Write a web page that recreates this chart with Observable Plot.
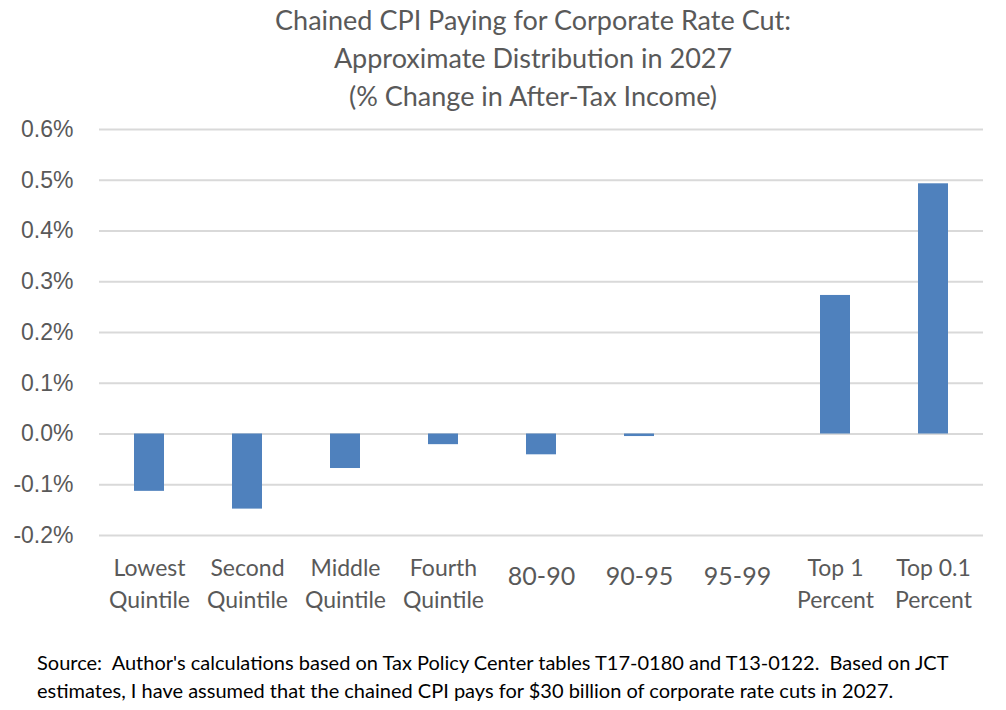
<!DOCTYPE html>
<html>
<head>
<meta charset="utf-8">
<script src="https://cdn.jsdelivr.net/npm/d3@7"></script>
<script src="https://cdn.jsdelivr.net/npm/@observablehq/plot@0.6"></script>
<style>
  html, body { margin: 0; padding: 0; background: #fff; }
  #wrap { width: 1006px; height: 710px; position: relative; overflow: hidden; }
  .title {
    position: absolute; left: 0; top: 1px; width: 1066px; text-align: center;
    font-family: Lato, "Open Sans", sans-serif; font-size: 27px; line-height: 38px; color: #595959;
  }
  #chart { position: absolute; left: 0; top: 115px; }
  .caption {
    position: absolute; left: 37px; top: 648px; width: 980px; white-space: nowrap;
    font-family: Lato, "Open Sans", sans-serif; font-size: 20px; line-height: 28px; color: #000;
  }
</style>
</head>
<body>
<div id="wrap">
  <div class="title">Chained CPI Paying for Corporate Rate Cut:<br>Approximate Distribution in 2027<br>(% Change in After-Tax Income)</div>
  <div id="chart"></div>
  <div class="caption">Source:&nbsp; Author's calculations based on Tax Policy Center tables T17-0180 and T13-0122.&nbsp; Based on JCT<br>estimates, I have assumed that the chained CPI pays for $30 billion of corporate rate cuts in 2027.</div>
</div>
<script>
// Income groups, in display order
const categories = ["Lowest Quintile", "Second Quintile", "Middle Quintile", "Fourth Quintile",
  "80-90", "90-95", "95-99", "Top 1 Percent", "Top 0.1 Percent"];
// Axis labels for each group (wrapped onto two lines where needed)
const tickLabels = ["Lowest\nQuintile", "Second\nQuintile", "Middle\nQuintile", "Fourth\nQuintile",
  "80-90", "90-95", "95-99", "Top 1\nPercent", "Top 0.1\nPercent"];
// % change in after-tax income, 2027
const values = [-0.113, -0.148, -0.068, -0.021, -0.041, -0.005, 0.0, 0.273, 0.493];
// Y-axis ticks (percent)
const yTicks = [-0.2, -0.1, 0.0, 0.1, 0.2, 0.3, 0.4, 0.5, 0.6];

const data = categories.map((c, i) => ({group: c, value: values[i]}));
const labelOf = new Map(categories.map((c, i) => [c, tickLabels[i]]));
const twoLine = categories.filter(c => labelOf.get(c).includes("\n"));
const oneLine = categories.filter(c => !labelOf.get(c).includes("\n"));

const chart = Plot.plot({
  width: 1006,
  height: 505,
  marginTop: 14,
  marginBottom: 85,
  marginLeft: 99,
  marginRight: 23,
  style: {background: "transparent"},
  x: {domain: categories, paddingInner: 0.69, paddingOuter: 0.345, axis: null},
  y: {domain: [-0.2, 0.6], axis: null},
  marks: [
    Plot.gridY(yTicks, {stroke: "#d9d9d9", strokeOpacity: 1, strokeWidth: 2}),
    Plot.axisY(yTicks, {
      tickSize: 0, tickPadding: 0, dx: -26, label: null,
      tickFormat: d => d.toFixed(1) + "%",
      fontFamily: "'Liberation Sans', Arial, sans-serif", fontSize: 23, fill: "#595959"
    }),
    Plot.barY(data, {x: "group", y: "value", fill: "#4f81bd"}),
    Plot.axisX(twoLine, {
      tickSize: 0, tickPadding: 18, lineHeight: 1.39, label: null,
      tickFormat: d => labelOf.get(d),
      fontFamily: "Lato, 'Open Sans', sans-serif", fontSize: 23, fill: "#595959"
    }),
    Plot.axisX(oneLine, {
      tickSize: 0, tickPadding: 32, label: null,
      tickFormat: d => labelOf.get(d),
      fontFamily: "Lato, 'Open Sans', sans-serif", fontSize: 25, fill: "#595959"
    })
  ]
});
document.getElementById("chart").appendChild(chart);
</script>
</body>
</html>
